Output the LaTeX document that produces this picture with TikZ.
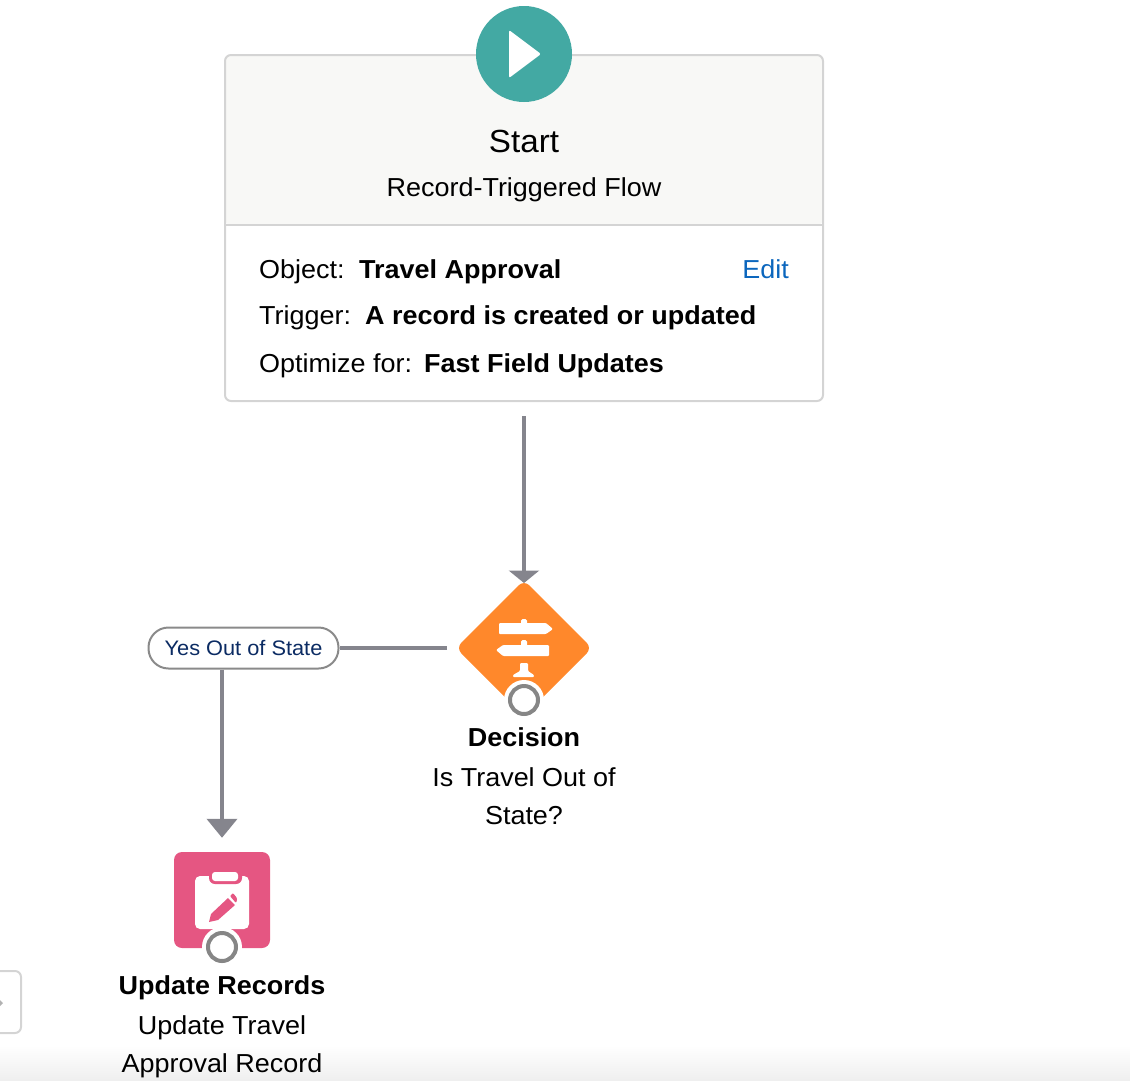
\documentclass[tikz,border=0pt]{standalone}
\usepackage{fontspec}
\setmainfont[FakeStretch=1.037]{Liberation Sans}
\usetikzlibrary{arrows.meta,shapes.geometric}
\definecolor{cardline}{HTML}{D4D4D4}
\definecolor{cardhead}{HTML}{F8F8F6}
\definecolor{teal1}{HTML}{43A9A3}
\definecolor{orange1}{HTML}{FF882B}
\definecolor{pink1}{HTML}{E55682}
\definecolor{conn}{HTML}{85858D}
\definecolor{ringgray}{HTML}{868686}
\definecolor{linkblue}{HTML}{0B66BD}
\definecolor{pilltext}{HTML}{0B2B63}
\definecolor{pillline}{HTML}{8A8A8A}
\definecolor{bottomgray}{HTML}{EFEFEF}
\tikzset{
  x=1pt,y=-1pt,
  conline/.style={draw=conn,line width=4pt},
  txt/.style={inner sep=0pt,text=black,anchor=base},
  lefttxt/.style={txt,anchor=base west},
  body/.style={font=\fontsize{26}{26}\selectfont},
  strong/.style={font=\fontsize{26}{26}\selectfont\bfseries},
  ring/.style={circle,draw=ringgray,line width=4pt,fill=white,minimum size=28pt,inner sep=0pt},
  halo/.style={circle,fill=white,minimum size=40pt,inner sep=0pt},
}
\begin{document}
\begin{tikzpicture}
\useasboundingbox (0,0) rectangle (1130,1080);
% bottom fade and partially visible side box
\shade[top color=white,bottom color=bottomgray] (0,1045) rectangle (1130,1080);
\draw[cardline,line width=2pt,rounded corners=6pt] (-12,971) -- (21,971) -- (21,1033) -- (-12,1033);
\fill[gray!60] (0,1000) -- (3,1003) -- (0,1006) -- cycle;
% start card
\fill[cardhead,rounded corners=6pt] (225,55) -- (823,55) -- (823,225) -- (225,225) -- cycle;
\node[draw=cardline,line width=2pt,rounded corners=6pt,minimum width=598pt,minimum height=346pt,inner sep=0pt] (card) at (524,228) {};
\draw[cardline,line width=2pt] (card.west |- 0,225) -- (card.east |- 0,225);
\node[circle,fill=teal1,minimum size=96pt,inner sep=0pt] (startc) at (524,54) {};
\fill[white,rounded corners=2pt] (509,30) -- (541,54) -- (509,78) -- cycle;
\node[txt,font=\fontsize{32}{32}\selectfont] (t1) at (524,152) {Start};
\node[txt,body] (t2) at (524,196) {Record-Triggered Flow};
\node[lefttxt,body] (o1) at (259,278) {Object:};
\node[lefttxt,strong] (o2) at (359,278) {Travel Approval};
\node[txt,anchor=base east,body,text=linkblue] (edit) at (789,278) {Edit};
\node[lefttxt,body] (tr1) at (259,324) {Trigger:};
\node[lefttxt,strong] (tr2) at (365,324) {A record is created or updated};
\node[lefttxt,body] (op1) at (259,372) {Optimize for:};
\node[lefttxt,strong] (op2) at (424,372) {Fast Field Updates};
% decision
\node[diamond,fill=orange1,draw=orange1,line width=1pt,rounded corners=7pt,minimum width=135pt,minimum height=135pt,inner sep=0pt,aspect=1] (dec) at (524,648) {};
\fill[white,rounded corners=1pt] (499,623) -- (546,623) -- (553,629) -- (546,634) -- (499,634) -- cycle;
\fill[white,rounded corners=1.5pt] (521,625) -- (521,619) -- (527,619) -- (527,625) -- cycle;
\fill[white,rounded corners=1pt] (549,645) -- (503,645) -- (496,650) -- (503,656) -- (549,656) -- cycle;
\fill[white,rounded corners=1.5pt] (521,647) -- (521,640) -- (527,640) -- (527,647) -- cycle;
\fill[white,rounded corners=1pt] (520,663) -- (528,663) -- (528,671) -- (534,675) -- (534,677) -- (513,677) -- (513,675) -- (520,671) -- cycle;
\node[halo] at (524,700) {};
\node[ring] (decout) at (524,700) {};
\node[txt,strong] (d1) at (524,746) {Decision};
\node[txt,body] (d2) at (524,786) {Is Travel Out of};
\node[txt,body] (d3) at (524,824) {State?};
% pill
\node[draw=pillline,line width=2pt,fill=white,rounded corners=20pt,minimum width=190pt,minimum height=41pt,inner sep=0pt,text=pilltext,font=\fontsize{21}{21}\selectfont] (pill) at (243.5,648) {Yes Out of State};
% update
\node[fill=pink1,rounded corners=8pt,minimum size=96pt,inner sep=0pt] (upd) at (222,900) {};
\fill[white,rounded corners=5pt] (195,876) -- (249,876) -- (249,929) -- (195,929) -- cycle;
\fill[pink1,rounded corners=6pt] (209,870) -- (242,870) -- (242,884) -- (209,884) -- cycle;
\fill[white,rounded corners=3pt] (212,872) -- (238,872) -- (238,881) -- (212,881) -- cycle;
\fill[pink1] (209,922) -- (211,914) -- (228,898) -- (235,905) -- (218,920) -- cycle;
\fill[pink1,rounded corners=1pt] (230,896) -- (233,893) -- (237,898) -- (237,900) -- (236,903) -- cycle;
\node[halo] at (222,947) {};
\node[ring] (updout) at (222,947) {};
\node[txt,strong] (u1) at (222,994) {Update Records};
\node[txt,body] (u2) at (222,1034) {Update Travel};
\node[txt,body] (u3) at (222,1072) {Approval Record};
% connectors
\coordinate (cardexit) at ([yshift=-14pt]card.south);
\coordinate (decin) at ([yshift=-3pt]dec.north);
\coordinate (decleft) at ([xshift=-9pt]dec.west);
\coordinate (updin) at ([yshift=14pt]upd.north);
\draw[conline,-{Triangle[width=30pt,length=12.5pt]}] (cardexit) -- (decin);
\draw[conline] (decleft) -- (pill.east);
\draw[conline,-{Triangle[width=30pt,length=19pt]}] (pill.south -| upd.north) -- (updin);
\end{tikzpicture}
\end{document}
